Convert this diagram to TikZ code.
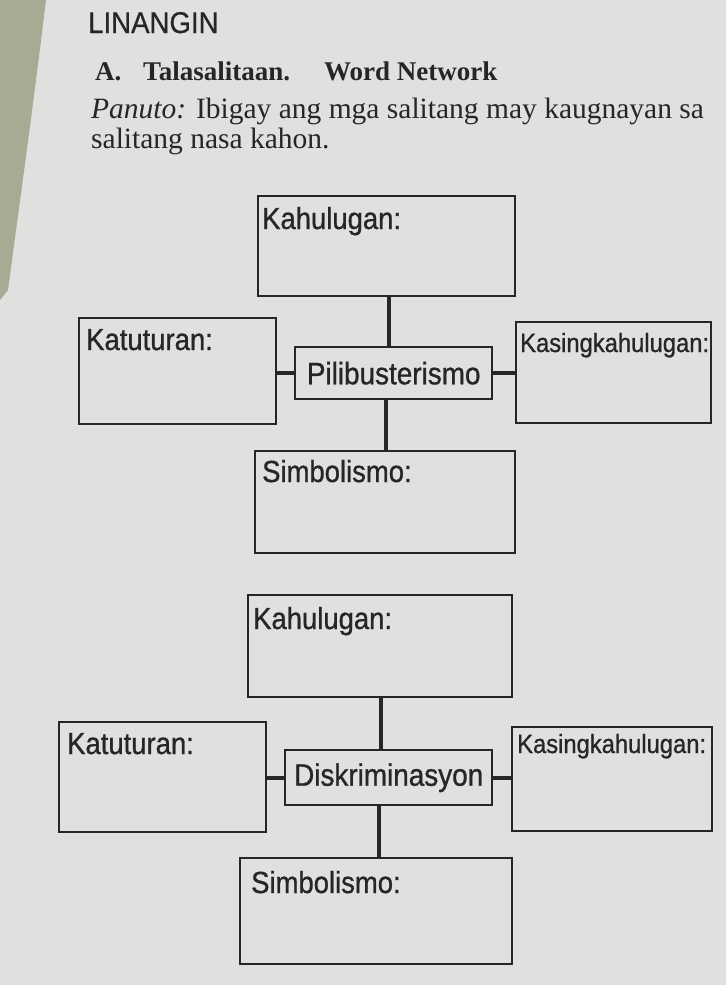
\documentclass[tikz,border=0pt]{standalone}
\usepackage{fontspec}
\setmainfont{Liberation Serif}
\newfontfamily\arialn[FakeStretch=0.9,FakeBold=0.9]{Liberation Sans}
\newfontfamily\arialt[FakeStretch=0.92,FakeBold=0.6]{Liberation Sans}
\definecolor{paper}{RGB}{224,224,222}
\definecolor{ink}{RGB}{38,38,38}
\definecolor{edge}{RGB}{168,170,148}
\begin{document}
\begin{tikzpicture}[x=1pt,y=-1pt,
  box/.style={draw=ink,line width=2.4pt,inner sep=0pt,anchor=north west},
  centerbox/.style={box,text=ink,font=\arialn\fontsize{31}{33}\selectfont},
  link/.style={draw=ink,line width=4pt},
  lab/.style={anchor=base west,inner sep=0pt,text=ink,font=\arialn\fontsize{30.5}{33}\selectfont},
  smalllab/.style={lab,font=\arialn\fontsize{26.4}{28}\selectfont},
  head/.style={anchor=base west,inner sep=0pt,text=ink}]
\useasboundingbox (0,0) rectangle (726,985);
\fill[paper] (0,0) rectangle (726,985);
\fill[edge] (0,0) -- (46,0) .. controls (34,100) and (20,200) .. (8,290) -- (0,300) -- cycle;

% header
\node[head,font=\arialt\fontsize{30}{32}\selectfont] (title) at (88,33) {LINANGIN};
\node[head,font=\bfseries\fontsize{27}{30}\selectfont] (secA) at (95,80) {A.};
\node[head,font=\bfseries\fontsize{27}{30}\selectfont] (secT) at (143,80) {Talasalitaan.};
\node[head,font=\bfseries\fontsize{27}{30}\selectfont] (secW) at (324,80) {Word Network};
\node[head,font=\fontsize{29.5}{32}\selectfont] (pan1) at (91,118) {\textit{Panuto:} Ibigay ang mga salitang may kaugnayan sa};
\node[head,font=\fontsize{29.5}{32}\selectfont] (pan2) at (91,148) {salitang nasa kahon.};

% diagram 1
\node[box,minimum width=257pt,minimum height=100pt] (k1) at (257,195) {};
\node[box,minimum width=197pt,minimum height=106pt] (t1) at (78,317) {};
\node[centerbox,minimum width=197pt,minimum height=52pt] (c1) at (294,346) {Pilibusterismo};
\node[box,minimum width=195pt,minimum height=101pt] (s1) at (515,321) {};
\node[box,minimum width=260pt,minimum height=102pt] (b1) at (254,450) {};
\draw[link] ([xshift=-5pt]c1.north) -- ([xshift=-5pt]c1.north |- k1.south);
\draw[link] ([xshift=-7.5pt]c1.south) -- ([xshift=-7.5pt]c1.south |- b1.north);
\draw[link] (c1.west) -- (c1.west -| t1.east);
\draw[link] (c1.east) -- (c1.east -| s1.west);
\node[lab] (k1l) at (262,229) {Kahulugan:};
\node[lab] (t1l) at (86,350) {Katuturan:};
\node[smalllab] (s1l) at (520,352) {Kasingkahulugan:};
\node[lab] (b1l) at (262,482) {Simbolismo:};

% diagram 2
\node[box,minimum width=264pt,minimum height=102pt] (k2) at (247,594) {};
\node[box,minimum width=207pt,minimum height=110pt] (t2) at (58,721) {};
\node[centerbox,minimum width=207pt,minimum height=55pt] (c2) at (284,749) {Diskriminasyon};
\node[box,minimum width=200pt,minimum height=104pt] (s2) at (511,726) {};
\node[box,minimum width=272pt,minimum height=106pt] (b2) at (239,857) {};
\draw[link] ([xshift=-7.5pt]c2.north) -- ([xshift=-7.5pt]c2.north |- k2.south);
\draw[link] ([xshift=-9.5pt]c2.south) -- ([xshift=-9.5pt]c2.south |- b2.north);
\draw[link] (c2.west) -- (c2.west -| t2.east);
\draw[link] (c2.east) -- (c2.east -| s2.west);
\node[lab] (k2l) at (253,629) {Kahulugan:};
\node[lab] (t2l) at (67,754) {Katuturan:};
\node[smalllab] (s2l) at (517,753) {Kasingkahulugan:};
\node[lab] (b2l) at (251,893) {Simbolismo:};
\end{tikzpicture}
\end{document}
